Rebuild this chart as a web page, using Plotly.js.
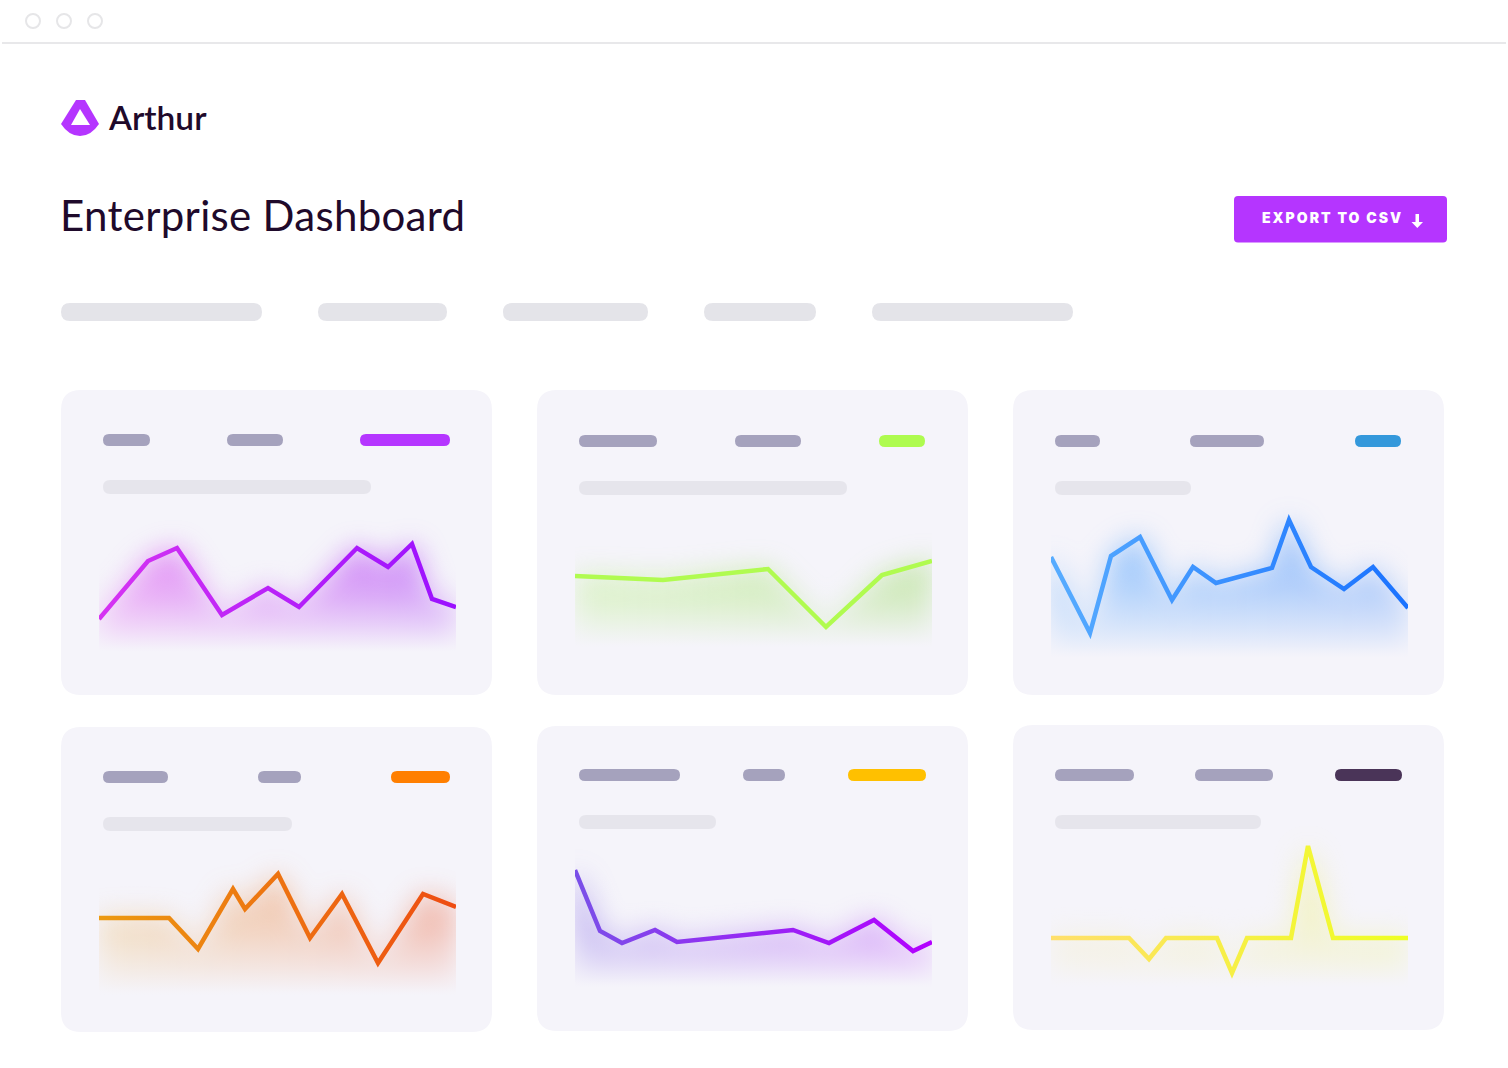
<!DOCTYPE html>
<html><head><meta charset="utf-8">
<script src="https://cdn.plot.ly/plotly-3.0.1.min.js"></script>
<style>html,body{margin:0;padding:0;background:#fff;overflow:hidden}#chart{width:1508px;height:1068px}</style>
</head><body><div id="chart"></div>
<script>
// ---- chart values ----
var purpleX=[0,49,78,123,169,200,258,289,313,333,357];
var purpleY=[33,91,104,37,64,45,104,85,108,53,45];
var limeX=[0,88,193,251,307,357];
var limeY=[71,67,78,20,72,86];
var blueX=[0,39,60,89,121,142,165,221,238,260,293,322,357];
var blueY=[101,25,102,121,58,91,75,90,138,91,69,91,50];
var orangeX=[0,70,99,134,146,179,211,243,279,324,357];
var orangeY=[77,77,46,106,86,121,57,101,32,101,88];
var violetX=[0,25,47,80,102,218,254,299,338,357];
var violetY=[117,56,44,57,45,57,44,67,36,45];
var yellowX=[0,78,98,115,166,181,196,240,257,282,357];
var yellowY=[49,49,28,49,49,14,49,49,141,49,49];

// ---- page text ----
var brandName="Arthur";
var pageTitle="Enterprise Dashboard";
var exportLabel="EXPORT TO CSV";

var W=1508,H=1068;
var fx=function(x){return x/W},fy=function(y){return 1-y/H};
var CARD='#f5f4fa';
var CARD_RGB='245,244,250';
var cfg=[
 {x:purpleX,y:purpleY,l:99,b:652,t:505,c:['#d633f2','#9a10ff'],f:['rgba(222,70,240,.62)','rgba(160,40,245,.62)']},
 {x:limeX,y:limeY,l:575,b:647,t:530,c:['#b0fb50','#b0fb50'],f:['rgba(170,240,100,.42)','rgba(145,215,85,.52)']},
 {x:blueX,y:blueY,l:1051,b:658,t:490,c:['#57acff','#1a72ff'],f:['rgba(70,160,255,.62)','rgba(50,130,250,.58)']},
 {x:orangeX,y:orangeY,l:99,b:995,t:845,c:['#ec9a10','#ee4c12'],f:['rgba(235,175,70,.45)','rgba(235,85,45,.5)']},
 {x:violetX,y:violetY,l:575,b:987,t:835,c:['#7a50e8','#b300ff'],f:['rgba(110,80,225,.62)','rgba(175,40,250,.62)']},
 {x:yellowX,y:yellowY,l:1051,b:987,t:825,c:['#ffdf6a','#eeff22'],f:['rgba(245,225,100,.38)','rgba(235,245,60,.55)']}
];
var CW=357;
var traces=[],layout={
 width:W,height:H,margin:{l:0,r:0,t:0,b:0,pad:0},autosize:false,showlegend:false,
 paper_bgcolor:'#ffffff',plot_bgcolor:'rgba(0,0,0,0)',hovermode:false,
 font:{family:'Lato, sans-serif',color:'#1f0a2b'},shapes:[],annotations:[]
};
function rr(x0,y0,x1,y1,r,fill){
 var p='M '+fx(x0+r)+' '+fy(y0)+' L '+fx(x1-r)+' '+fy(y0)+' Q '+fx(x1)+' '+fy(y0)+' '+fx(x1)+' '+fy(y0+r)+
  ' L '+fx(x1)+' '+fy(y1-r)+' Q '+fx(x1)+' '+fy(y1)+' '+fx(x1-r)+' '+fy(y1)+' L '+fx(x0+r)+' '+fy(y1)+
  ' Q '+fx(x0)+' '+fy(y1)+' '+fx(x0)+' '+fy(y1-r)+' L '+fx(x0)+' '+fy(y0+r)+' Q '+fx(x0)+' '+fy(y0)+' '+fx(x0+r)+' '+fy(y0)+' Z';
 layout.shapes.push({type:'path',xref:'paper',yref:'paper',path:p,fillcolor:fill,line:{width:0},layer:'below'});
}
function poly(pts,fill){
 var p='',i=0;
 while(i<pts.length){var c=pts[i++];p+=c+' ';
  if(c==='Z')continue;
  var n=c==='Q'?2:1;
  for(var k=0;k<n;k++){p+=fx(pts[i++])+' '+fy(pts[i++])+' ';}
 }
 layout.shapes.push({type:'path',xref:'paper',yref:'paper',path:p,fillcolor:fill,line:{width:0},layer:'below'});
}
// window chrome
layout.shapes.push({type:'line',xref:'paper',yref:'paper',x0:fx(2),x1:fx(1506),y0:fy(43),y1:fy(43),line:{color:'#e8e8ea',width:2},layer:'below'});
[33,64,95].forEach(function(cx){layout.shapes.push({type:'circle',xref:'paper',yref:'paper',x0:fx(cx-7),x1:fx(cx+7),y0:fy(14),y1:fy(28),fillcolor:'#fff',line:{color:'#e6e6e8',width:2},layer:'below'})});
// logo
poly(['M',76,100,'L',85,100,'L',99,124,'Q',91,136,80,136,'Q',69,136,61,124,'Z'],'#b535ff');
poly(['M',80,109,'L',90,125,'L',71,125,'Z'],'#ffffff');
// button
rr(1234,196,1447,242.5,4,'#b535ff');
poly(['M',1415.5,214,'L',1419,214,'L',1419,222,'L',1423,222,'L',1417.3,228,'L',1411.5,222,'L',1415.5,222,'Z'],'#ffffff');
// nav pills
[[61,262],[318,447],[503,648],[704,816],[872,1073]].forEach(function(p){rr(p[0],303,p[1],321,9,'#e4e4e9')});
// cards
var G='#a5a2bd',S='#e6e5ec';
[
 {x:61,y:390,py:434,sy:480,p:[[103,150],[227,283]],a:[360,450],ac:'#b535ff',s:[103,371]},
 {x:537,y:390,py:435,sy:481,p:[[579,657],[735,801]],a:[879,925],ac:'#aefb4f',s:[579,847]},
 {x:1013,y:390,py:435,sy:481,p:[[1055,1100],[1190,1264]],a:[1355,1401],ac:'#3498db',s:[1055,1191]},
 {x:61,y:727,py:771,sy:817,p:[[103,168],[258,301]],a:[391,450],ac:'#ff7f00',s:[103,292]},
 {x:537,y:726,py:769,sy:815,p:[[579,680],[743,785]],a:[848,926],ac:'#ffc000',s:[579,716]},
 {x:1013,y:725,py:769,sy:815,p:[[1055,1134],[1195,1273]],a:[1335,1402],ac:'#4a3458',s:[1055,1261]}
].forEach(function(c){
 rr(c.x,c.y,c.x+431,c.y+305,20,CARD);
 c.p.forEach(function(p){rr(p[0],c.py,p[1],c.py+12,6,G)});
 rr(c.a[0],c.py,c.a[1],c.py+12,6,c.ac);
 rr(c.s[0],c.sy,c.s[1],c.sy+14,7,S);
});
// text
function note(t,x,y,size,weight,color,family){
 layout.annotations.push({text:t,xref:'paper',yref:'paper',x:fx(x),y:fy(y),xanchor:'left',yanchor:'middle',showarrow:false,borderpad:0,
  font:{size:size,color:color,family:family||'Lato, sans-serif',weight:weight}});
}
note(brandName,107,116.5,33.5,600,'#1f0a2b');
note(pageTitle,62,215,42,400,'#1f0a2b');
note(exportLabel,1274,218,14,900,'#ffffff','Inter, sans-serif');
// charts
cfg.forEach(function(c,i){
 var k=i?String(i+1):'',xa='x'+k,ya='y'+k,h=c.b-c.t;
 layout['xaxis'+k]={domain:[fx(c.l),fx(c.l+CW)],range:[0,CW],visible:false,anchor:ya,fixedrange:true};
 layout['yaxis'+k]={domain:[fy(c.b),fy(c.t)],range:[0,h],visible:false,anchor:xa,fixedrange:true};
 traces.push({x:c.x,y:c.y,xaxis:xa,yaxis:ya,type:'scatter',mode:'none',fill:'tozeroy',hoverinfo:'skip',
  fillgradient:{type:'horizontal',colorscale:[[0,c.f[0]],[1,c.f[1]]]}});
 var top=Math.max.apply(null,c.y);
 traces.push({x:[0,CW,CW,0,0],y:[0,0,h,h,0],xaxis:xa,yaxis:ya,type:'scatter',mode:'none',fill:'toself',hoverinfo:'skip',
  fillgradient:{type:'vertical',start:0,stop:top,colorscale:[[0,'rgba('+CARD_RGB+',1)'],[0.08,'rgba('+CARD_RGB+',.88)'],[0.5,'rgba('+CARD_RGB+',.42)'],[1,'rgba('+CARD_RGB+',0)']]}});
 traces.push({x:c.x,y:c.y,xaxis:xa,yaxis:ya,type:'scatter',mode:'lines',hoverinfo:'skip',
  line:{color:c.c[0],width:4.5,shape:'linear'}});
});
Plotly.newPlot('chart',traces,layout,{staticPlot:true,displayModeBar:false}).then(function(gd){
 var svg=gd.querySelector('.main-svg');
 var defs=svg.querySelector('defs');
 var NS='http://www.w3.org/2000/svg';
 gd.querySelectorAll('.js-line').forEach(function(p,i){
  var c=cfg[i]; if(!c)return;
  var g=document.createElementNS(NS,'linearGradient');g.setAttribute('id','lineGrad'+i);
  [[0,c.c[0]],[1,c.c[1]]].forEach(function(s){var st=document.createElementNS(NS,'stop');st.setAttribute('offset',s[0]);st.setAttribute('stop-color',s[1]);g.appendChild(st)});
  defs.appendChild(g);
  p.style.stroke='url(#lineGrad'+i+')';p.style.strokeLinejoin='miter';p.style.strokeMiterlimit='4';
 });
 gd.querySelectorAll('.js-fill').forEach(function(p,i){if(i%2===0)p.style.filter='blur(14px)'});
 gd.querySelectorAll('.annotation-text').forEach(function(t){
  if(t.textContent===exportLabel)t.style.letterSpacing='2px';
  if(t.textContent===pageTitle)t.style.letterSpacing='.3px';
 });
});
</script></body></html>
